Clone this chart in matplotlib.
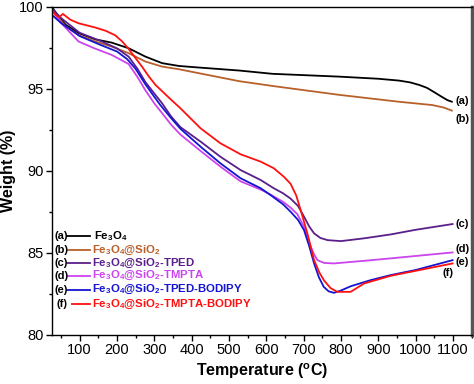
import matplotlib
matplotlib.use("Agg")
import matplotlib.pyplot as plt
from matplotlib.ticker import MultipleLocator

plt.rcParams['font.family'] = ['Liberation Sans', 'DejaVu Sans']
plt.rcParams['mathtext.default'] = 'regular'

# TGA curves
t_a = [25, 40, 62, 97, 142, 186, 231, 276, 321, 366, 410, 528, 617, 795, 900, 955, 985, 1010, 1030,
       1050, 1070, 1085, 1097]
w_a = [100.0, 99.5, 98.9, 98.38, 98.0, 97.8, 97.46, 96.95, 96.55, 96.38, 96.3, 96.1, 95.9, 95.73,
       95.6, 95.49, 95.38, 95.22, 95.05, 94.78, 94.5, 94.3, 94.2]

t_b = [25, 40, 62, 97, 142, 186, 231, 276, 321, 366, 410, 528, 620, 795, 955, 1044, 1075, 1097]
w_b = [99.8, 99.4, 98.8, 98.27, 97.87, 97.56, 97.16, 96.65, 96.34, 96.18, 95.98, 95.45, 95.15, 94.62,
       94.2, 94.0, 93.85, 93.66]

t_c = [25, 50, 100, 156, 200, 231, 255, 276, 300, 321, 345, 370, 424, 477, 531, 585, 620, 645, 665,
       685, 701, 715, 728, 745, 764, 800, 862, 934, 1000, 1099]
w_c = [99.9, 99.3, 98.4, 97.9, 97.45, 96.95, 96.2, 95.4, 94.7, 94.1, 93.3, 92.65, 91.77, 90.85,
       90.04, 89.43, 88.93, 88.62, 88.3, 87.85, 87.2, 86.6, 86.18, 85.9, 85.77, 85.71, 85.88, 86.12,
       86.4, 86.75]

t_d = [25, 50, 97, 140, 186, 231, 255, 276, 300, 321, 345, 370, 424, 477, 531, 585, 611, 645, 665,
       683, 701, 710, 719, 728, 737, 755, 781, 862, 934, 1099]
w_d = [99.8, 99.0, 97.87, 97.45, 97.05, 96.5, 95.7, 94.9, 94.1, 93.5, 92.8, 92.2, 91.2, 90.25,
       89.35, 88.85, 88.55, 88.1, 87.75, 87.35, 86.59, 85.95, 85.37, 84.9, 84.55, 84.38, 84.35, 84.51,
       84.66, 85.02]

t_e = [25, 50, 100, 156, 200, 227, 250, 275, 300, 316, 345, 370, 424, 477, 531, 585, 611, 645, 665,
       685, 701, 715, 728, 741, 754, 767, 781, 800, 826, 879, 933, 1000, 1099]
w_e = [99.5, 99.0, 98.2, 97.66, 97.26, 96.8, 96.2, 95.3, 94.5, 94.0, 93.2, 92.55, 91.46, 90.45,
       89.54, 88.93, 88.52, 87.95, 87.5, 87.0, 86.38, 85.4, 84.35, 83.5, 82.92, 82.65, 82.56, 82.7,
       82.96, 83.33, 83.64, 83.95, 84.55]

t_f = [25, 35, 45, 55, 75, 97, 142, 170, 195, 214, 230, 250, 267, 285, 303, 339, 370, 424, 477, 531,
       585, 620, 647, 665, 680, 692, 710, 728, 742, 755, 772, 790, 826, 862, 934, 1000, 1099]
w_f = [99.8, 99.5, 99.35, 99.55, 99.2, 98.98, 98.72, 98.52, 98.25, 97.87, 97.45, 96.85, 96.34, 95.75,
       95.23, 94.45, 93.8, 92.58, 91.67, 91.0, 90.55, 90.15, 89.63, 89.2, 88.5, 87.6, 86.18, 84.55,
       83.8, 83.3, 82.85, 82.62, 82.62, 83.13, 83.6, 83.9, 84.35]

tags = ['(a)', '(b)', '(c)', '(d)', '(e)', '(f)']
names = ['Fe$_3$O$_4$', 'Fe$_3$O$_4$@SiO$_2$', 'Fe$_3$O$_4$@SiO$_2$-TPED', 'Fe$_3$O$_4$@SiO$_2$-TMPTA',
         'Fe$_3$O$_4$@SiO$_2$-TPED-BODIPY', 'Fe$_3$O$_4$@SiO$_2$-TMPTA-BODIPY']
colors = ['#000000', '#b8602a', '#5a1f8a', '#cc44ee', '#1414d2', '#ff1010']
temps = [t_a, t_b, t_c, t_d, t_e, t_f]
weights = [w_a, w_b, w_c, w_d, w_e, w_f]

fig = plt.figure(figsize=(4.74, 3.84), dpi=100)
ax = fig.add_axes([0.109, 0.128, 0.886, 0.855])

for t, w, c in zip(temps, weights, colors):
    ax.plot(t, w, color=c, lw=1.3)

# tags at the right end of each curve
tag_pos = [(1108, 94.25), (1108, 93.15), (1108, 86.75), (1108, 85.25), (1108, 84.45), (1072, 83.75)]
for tag, (x, y) in zip(tags, tag_pos):
    ax.text(x, y, tag, fontsize=8, fontweight='bold', va='center', ha='left')

# hand made legend at lower left
leg_y = [0.301, 0.258, 0.219, 0.180, 0.138, 0.093]
for i in range(6):
    y = leg_y[i]
    x0 = 0.006 if i < 5 else 0.012
    ax.text(x0, y, tags[i], transform=ax.transAxes, fontsize=8, fontweight='bold', va='center')
    ax.plot([0.037 if i < 5 else 0.048, 0.091], [y, y], transform=ax.transAxes, color=colors[i], lw=1.3)
    ax.text(0.101 if i == 0 else 0.096, y, names[i], transform=ax.transAxes, fontsize=8.2,
            fontweight='bold', color=colors[i], va='center')

ax.set_xlim(25, 1150)
ax.set_ylim(80, 100)
ax.xaxis.set_major_locator(MultipleLocator(100))
ax.xaxis.set_minor_locator(MultipleLocator(50))
ax.yaxis.set_major_locator(MultipleLocator(5))
ax.yaxis.set_minor_locator(MultipleLocator(2.5))
ax.set_xticks(range(100, 1101, 100))
ax.tick_params(which='major', direction='out', length=4, width=1, labelsize=10.5, pad=2)
ax.tick_params(which='minor', direction='out', length=2.5, width=1)

ax.set_xlabel('Temperature ($^o$C)', fontsize=11.5, fontweight='bold', labelpad=3)
ax.set_ylabel('Weight (%)', fontsize=11.5, fontweight='bold', labelpad=2)

for s in ['left', 'bottom', 'top']:
    ax.spines[s].set_linewidth(1.0)
ax.spines['right'].set_color('#555555')
ax.spines['right'].set_linewidth(2.5)

fig.savefig('out.png', dpi=100)
